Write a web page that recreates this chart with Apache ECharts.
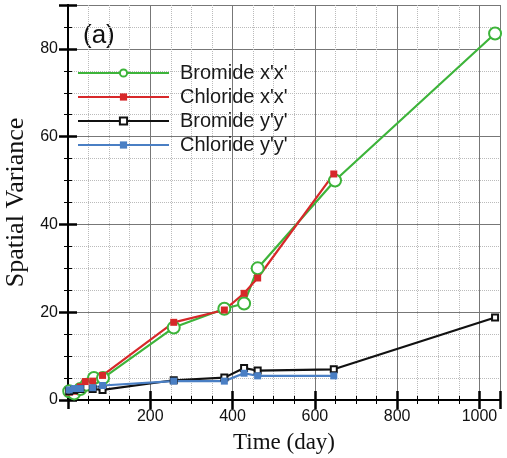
<!DOCTYPE html>
<html>
<head>
<meta charset="utf-8">
<script src="https://cdn.jsdelivr.net/npm/echarts@6/dist/echarts.min.js"></script>
<style>
  html, body { margin: 0; padding: 0; background: #fff; }
  #chart { width: 507px; height: 458px; }
</style>
</head>
<body>
<div id="chart"></div>
<script>
// values
var brXDays = [3, 15, 30, 45, 63, 85, 257, 380, 428, 461, 649, 1038];
var brXVals = [2.0, 1.5, 2.5, 3.5, 5.0, 5.0, 16.5, 20.8, 22.0, 30.0, 50.0, 83.5];
var clXDays = [3, 15, 30, 42, 60, 84, 257, 380, 428, 461, 646];
var clXVals = [1.8, 2.0, 3.0, 4.2, 4.3, 5.6, 17.7, 20.5, 24.3, 27.8, 51.5];
var brYDays = [3, 15, 30, 60, 84, 257, 380, 428, 461, 646, 1038];
var brYVals = [2.0, 2.3, 2.5, 2.5, 2.3, 4.5, 5.1, 7.3, 6.7, 7.0, 18.8];
var clYDays = [3, 15, 30, 60, 84, 257, 380, 428, 461, 646];
var clYVals = [2.3, 2.6, 2.6, 2.8, 3.3, 4.3, 4.3, 6.1, 5.5, 5.5];
var seriesNames = ["Bromide x'x'", "Chloride x'x'", "Bromide y'y'", "Chloride y'y'"];

function pairs(xs, ys) {
  return xs.map(function (x, i) { return [x, ys[i]]; });
}

var chart = echarts.init(document.getElementById('chart'));

var tickStyle = { show: true, inside: true, length: 9, lineStyle: { color: '#000', width: 2.5 } };
var minorTick = { show: true, splitNumber: 4, length: 4, lineStyle: { color: '#000', width: 1 } };
var minorSplit = { show: true, lineStyle: { color: '#bbb', type: 'dotted', width: 1 } };
var majorSplit = { show: true, lineStyle: { color: '#777', width: 1 } };
var axisLine = { show: true, lineStyle: { color: '#000', width: 2 } };

var option = {
  animation: false,
  backgroundColor: '#fff',
  grid: { left: 68, right: 7, top: 5, bottom: 58, containLabel: false, outerBoundsMode: 'none' },
  legend: {
    orient: 'vertical',
    left: 72, top: 58,
    itemWidth: 91, itemHeight: 9, itemGap: 4,
    data: seriesNames,
    textStyle: { fontFamily: 'Liberation Sans', fontSize: 20, color: '#1a1a1a', padding: [0, 0, 0, 6] }
  },
  graphic: [{
    type: 'text', left: 83, top: 23,
    style: { text: '(a)', fontFamily: 'Liberation Sans', fontSize: 26, fill: '#111' }
  }],
  xAxis: [{
    type: 'value', min: 0, max: 1050, interval: 200,
    name: 'Time (day)', nameLocation: 'middle', nameGap: 31,
    nameTextStyle: { fontFamily: 'Liberation Serif', fontSize: 23, color: '#111' },
    axisLine: axisLine, axisTick: tickStyle, minorTick: minorTick,
    splitLine: majorSplit, minorSplitLine: minorSplit,
    axisLabel: {
      fontFamily: 'Liberation Sans', fontSize: 16, color: '#111', margin: 9,
      showMinLabel: false, showMaxLabel: false,
      formatter: function (v) { return v % 200 === 0 && v > 0 ? String(v) : ''; }
    }
  }, {
    type: 'value', position: 'top', min: 0, max: 1050, interval: 200,
    axisLine: axisLine, axisTick: tickStyle, minorTick: minorTick,
    splitLine: { show: false }, axisLabel: { show: false }
  }],
  yAxis: [{
    type: 'value', min: 0, max: 90, interval: 20,
    name: 'Spatial Variance', nameLocation: 'middle', nameGap: 37,
    nameTextStyle: { fontFamily: 'Liberation Serif', fontSize: 26, color: '#111' },
    axisLine: axisLine, axisTick: tickStyle, minorTick: minorTick,
    splitLine: majorSplit, minorSplitLine: minorSplit,
    axisLabel: {
      fontFamily: 'Liberation Sans', fontSize: 16, color: '#111', margin: 10,
      showMaxLabel: false,
      formatter: function (v) { return v % 20 === 0 ? String(v) : ''; }
    }
  }, {
    type: 'value', position: 'right', min: 0, max: 90, interval: 20,
    axisLine: axisLine, axisTick: tickStyle, minorTick: minorTick,
    splitLine: { show: false }, axisLabel: { show: false }
  }],
  series: [{
    name: seriesNames[0], type: 'line', data: pairs(brXDays, brXVals),
    color: '#3db43a', symbol: 'emptyCircle', symbolSize: 12,
    lineStyle: { width: 2.2 }, itemStyle: { borderWidth: 2 }
  }, {
    name: seriesNames[1], type: 'line', data: pairs(clXDays, clXVals),
    color: '#d7282a', symbol: 'rect', symbolSize: 7,
    lineStyle: { width: 2.2 }
  }, {
    name: seriesNames[2], type: 'line', data: pairs(brYDays, brYVals),
    color: '#111', symbol: 'emptyRect', symbolSize: 6,
    lineStyle: { width: 2.2 }, itemStyle: { borderWidth: 1 }
  }, {
    name: seriesNames[3], type: 'line', data: pairs(clYDays, clYVals),
    color: '#4a7fc4', symbol: 'rect', symbolSize: 7,
    lineStyle: { width: 2.2 }
  }]
};

chart.setOption(option);
</script>
</body>
</html>
